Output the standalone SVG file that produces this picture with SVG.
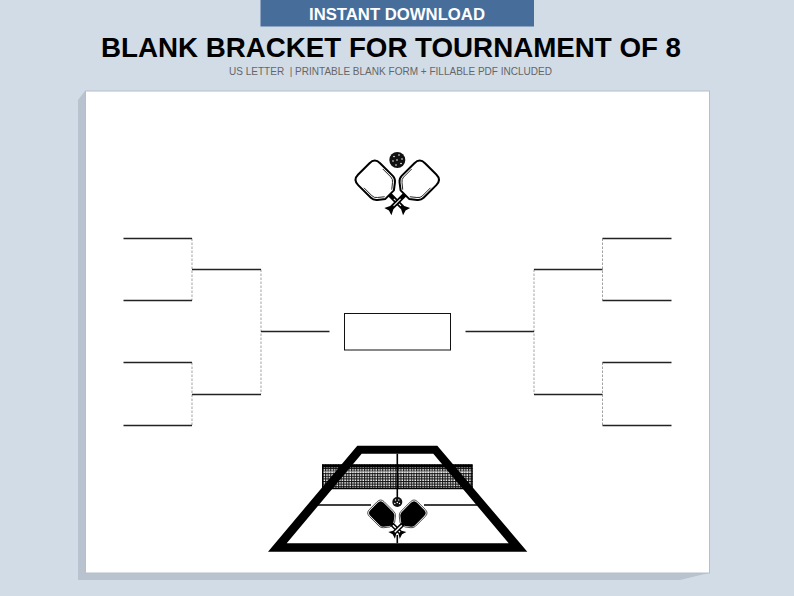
<svg xmlns="http://www.w3.org/2000/svg" width="794" height="596" viewBox="0 0 794 596">
<style>
.t{font-family:"Liberation Sans",Arial,sans-serif;white-space:pre}
.h{stroke:#222;stroke-width:1.4;fill:none}
.d{stroke:#999;stroke-width:.9;stroke-dasharray:2.5 1.5;fill:none}
.k{fill:#000}
.l{fill:#fff;stroke:#000;stroke-width:2;stroke-linejoin:round}
.c{fill:none;stroke:#000;stroke-width:.8}
.w{stroke:#fff;stroke-width:1;fill:none}
</style>
<defs>
<pattern id="mesh" width="2.6" height="2.6" patternUnits="userSpaceOnUse">
<rect width="2.6" height="2.6" fill="#fff"/>
<path d="M0 .6H2.600M.6 0V2.600" stroke="#111" stroke-width="1.100"/>
</pattern>
<g id="handle">
<path class="k" d="M-2.300 18V38.500L-5 44L0 42.500L5 44L2.300 38.500V18Z"/>
<path class="w" d="M0 26V36"/>
</g>
<path id="head" class="l" d="M-8 -16.500H8Q15.500 -16.500 15.500 -9V9Q15.500 12.500 12.500 15L6 20H-6L-12.500 15Q-15.500 12.500 -15.500 9V-9Q-15.500 -16.500 -8 -16.500Z"/>
<g id="inner">
<path class="c" d="M-13.300 -3V8.500Q-13.300 11.500 -10.500 13.500L-5 18"/>
<path class="c" d="M13.300 -3V8.500Q13.300 11.500 10.500 13.500L5 18"/>
</g>
<path id="shead" class="k" d="M-7 -17H7Q13 -17 13 -11V7Q13 10.500 10.500 12.500L4 17.500H-4L-10.500 12.500Q-13 10.500 -13 7V-11Q-13 -17 -7 -17Z"/>
<path id="sring" fill="none" stroke="#000" stroke-width=".9" d="M-7.500 -18.500H7.500Q14.500 -18.500 14.500 -11.500V7.500Q14.500 11 11.500 13.500L4.500 19H-4.500L-11.500 13.500Q-14.500 11 -14.500 7.500V-11.500Q-14.500 -18.500 -7.500 -18.500Z"/>
<g id="shandle">
<path class="k" d="M-3 16V34L-6.500 40L0 38L6.500 40L3 34V16Z"/>
<path stroke="#fff" stroke-width="2" d="M0 20V34"/>
</g>
</defs>
<rect width="794" height="596" fill="#d2dce6"/>
<g id="header">
<rect x="260.500" y="0" width="273.500" height="26.500" fill="#476d9b"/>
<text class="t" x="397" y="20" text-anchor="middle" font-size="16.500" font-weight="700" fill="#fff" textLength="176" lengthAdjust="spacingAndGlyphs">INSTANT DOWNLOAD</text>
<text class="t" x="391" y="57" text-anchor="middle" font-size="28" font-weight="700" fill="#000" textLength="580" lengthAdjust="spacingAndGlyphs">BLANK BRACKET FOR TOURNAMENT OF 8</text>
<text class="t" x="390.500" y="74.500" text-anchor="middle" font-size="11.500" fill="#666" textLength="323" lengthAdjust="spacingAndGlyphs">US LETTER  | PRINTABLE BLANK FORM + FILLABLE PDF INCLUDED</text>
</g>
<g id="paper">
<polygon points="85,91 78,100 78,580 680,580 709,573" fill="#b8c3cf"/>
<rect x="85.500" y="91" width="624" height="482" fill="#fff" stroke="#b5bec9" stroke-width="1"/>
</g>
<g id="connectors">
<path class="d" d="M192 238.500V300.500M192 362.500V425M261 269.500V394M602.500 238.500V300.500M602.500 362.500V425M534 269.500V394"/>
<path class="h" d="M123.500 238.500H192M123.500 300.500H192M123.500 362.500H192M123.500 425.500H192M192 269.500H261M192 394.500H261M261 331.500H329.500M602.500 238.500H671.500M602.500 300.500H671.500M602.500 362.500H671.500M602.500 425.500H671.500M534 269.500H602.500M534 394.500H602.500M465.500 331.500H534"/>
</g>
<g id="final">
<rect x="344.500" y="313.500" width="106" height="36.500" fill="#fff" stroke="#111" stroke-width="1"/>
</g>
<g id="logo">
<use href="#handle" transform="translate(375.500 180.500) rotate(-45)"/>
<use href="#handle" transform="translate(419 180.500) rotate(45)"/>
<use href="#head" transform="translate(375.500 180.500) rotate(-45)"/>
<use href="#inner" transform="translate(375.500 180.500) rotate(-45)"/>
<use href="#head" transform="translate(419 180.500) rotate(45)"/>
<use href="#inner" transform="translate(419 180.500) rotate(45)"/>
<circle cx="397.300" cy="160" r="8" fill="#111"/>
<g fill="#fff"><circle cx="394" cy="156.500" r=".8"/><circle cx="399" cy="155" r=".8"/><circle cx="402" cy="159" r=".8"/><circle cx="397" cy="160" r=".8"/><circle cx="393" cy="161" r=".8"/><circle cx="396" cy="165" r=".8"/><circle cx="401" cy="163.500" r=".8"/></g>
</g>
<g id="court">
<rect x="322" y="464.300" width="150.700" height="24.700" fill="url(#mesh)"/>
<path d="M322 464.300H472.700V489H471.300V467.500H323.400V489H322Z" fill="#000"/>
<path d="M323.400 472H471.300" stroke="#fff" stroke-width=".8"/>
<path d="M328 488.500H467" stroke="#000" stroke-width="1.500"/>
<path fill-rule="evenodd" class="k" d="M357.300 445.700H437.300L527.300 551.700H268ZM361.700 453.700L286.700 543.300H508.700L433.300 453.700Z"/>
<path stroke="#000" stroke-width="1.600" fill="none" d="M397.300 453.700V498M397.300 535V543.300M316.500 505H371M424 505H477.500"/>
<circle cx="397.300" cy="502" r="5" fill="#111"/>
<g fill="#fff"><circle cx="395.500" cy="500" r=".7"/><circle cx="398.800" cy="500" r=".7"/><circle cx="397.300" cy="502.500" r=".7"/><circle cx="394.800" cy="503.500" r=".7"/><circle cx="399.500" cy="503.500" r=".7"/></g>
<use href="#shandle" transform="translate(382.700 515) rotate(-45) scale(.72)"/>
<use href="#shandle" transform="translate(412 515) rotate(45) scale(.72)"/>
<g transform="translate(382.700 515) rotate(-45) scale(.72)"><use href="#sring"/><use href="#shead"/></g>
<g transform="translate(412 515) rotate(45) scale(.72)"><use href="#sring"/><use href="#shead"/></g>
</g>
</svg>
